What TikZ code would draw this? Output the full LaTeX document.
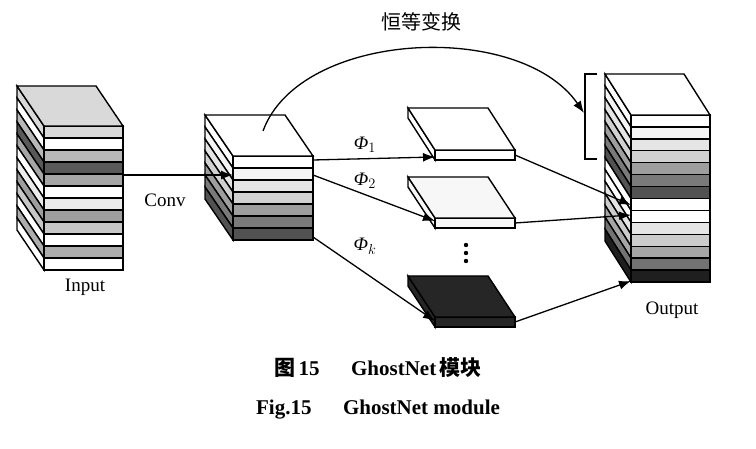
\documentclass[tikz,border=0pt]{standalone}
\usepackage{fontspec}
\setmainfont{Liberation Serif}
\newfontfamily\cjk{Noto Sans CJK SC}
\usetikzlibrary{arrows.meta}
\tikzset{
  edge/.style={line width=1.4pt},
  arr/.style={line width=1.3pt,-{Latex[length=12pt,width=9pt]}},
  lbl/.style={font=\fontsize{19}{19}\selectfont},
  phi/.style={font=\fontsize{19}{19}\selectfont\itshape},
}
% stack: x1, x2, ytop, stripe height, dx, dy, colour list, top colour
\newcommand{\mystack}[8]{%
  \foreach \c [count=\i from 0] in {#7} {
    \pgfmathsetmacro{\ya}{#3+\i*#4}
    \pgfmathsetmacro{\yb}{#3+(\i+1)*#4}
    \filldraw[fill=\c,edge] (#1,\ya) -- (#1+#5,\ya+#6) -- (#1+#5,\yb+#6) -- (#1,\yb) -- cycle;
    \filldraw[fill=\c,edge] (#1,\ya) rectangle (#2,\yb);
  }
  \filldraw[fill=#8,edge] (#1,#3) -- (#1+#5,#3+#6) -- (#2+#5,#3+#6) -- (#2,#3) -- cycle;
}
\begin{document}
\begin{tikzpicture}[x=1pt,y=-1pt]
\useasboundingbox (0,0) rectangle (756,449);
% input
\mystack{44}{123}{126}{12}{-27}{-40}{black!15,white,black!28,black!65,black!35,white,black!8,black!38,black!22,white,black!32,white}{black!15}
% conv output
\mystack{233}{313}{156}{12}{-28}{-41}{white,black!4,black!10,black!18,black!38,black!52,black!68}{white}
% plates
\mystack{435}{515}{150}{10}{-27}{-42}{white}{white}
\mystack{435}{515}{218}{10}{-27}{-41}{black!3}{black!3}
\mystack{435}{515}{317}{10}{-27}{-41}{black!85}{black!85}
% output
\mystack{631}{710}{115}{11.93}{-26}{-41}{white,black!4,black!10,black!18,black!38,black!52,black!68,white,white,black!10,black!20,black!35,black!55,black!88}{white}
% bracket
\draw[edge] (597,74) -- (585,74) -- (585,159) -- (597,159);
% dots
\foreach \y in {245,253,261} \fill (466,\y) circle (2.2);
% named points
\coordinate (in) at (123,175);
\coordinate (cv) at (233,175);
\coordinate (c1) at (313,160);
\coordinate (c2) at (313,175);
\coordinate (ck) at (313,237);
\coordinate (p1i) at (435,157);
\coordinate (p2i) at (435,221);
\coordinate (pki) at (435,321);
\coordinate (p1o) at (515,155);
\coordinate (p2o) at (515,223);
\coordinate (pko) at (515,322);
\coordinate (o1) at (631,205);
\coordinate (o2) at (631,215);
\coordinate (ok) at (631,281);
\coordinate (cs) at (263,131);
\coordinate (ob) at (584,113);
\node[lbl] (conv) at (165,200) {Conv};
\node[lbl] (inp) at (85,287) {Input};
\node[lbl] (outp) at (672,310) {Output};
\node[phi] (f1) at (365,145) {Φ$_1$};
\node[phi] (f2) at (365,181) {Φ$_2$};
\node[phi] (fk) at (365,246) {Φ$_k$};
\node[font=\cjk\fontsize{20}{20}\selectfont] (id) at (421,22) {恒等变换};
\draw[arr] (in) -- (cv);
\draw[arr] (c1) -- (p1i);
\draw[arr] (c2) -- (p2i);
\draw[arr] (ck) -- (pki);
\draw[arr] (p1o) -- (o1);
\draw[arr] (p2o) -- (o2);
\draw[arr] (pko) -- (ok);
\draw[arr] (cs) .. controls (300,30) and (520,20) .. (ob);
\node[font=\bfseries\fontsize{21}{21}\selectfont] (cap1) at (378,368) {{\cjk\bfseries 图}\,15\hspace{1.5em}GhostNet\,{\cjk\bfseries 模块}};
\node[font=\bfseries\fontsize{21}{21}\selectfont] (cap2) at (378,410) {Fig.15\hspace{1.5em}GhostNet module};
\end{tikzpicture}
\end{document}
